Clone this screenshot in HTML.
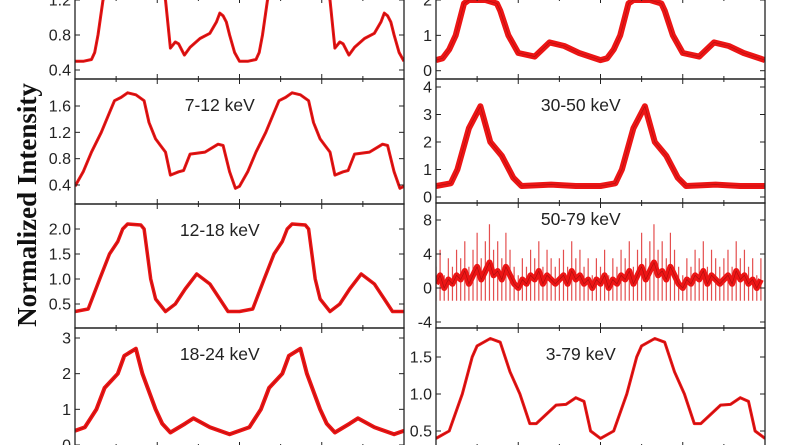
<!DOCTYPE html>
<html><head><meta charset="utf-8"><style>
body{margin:0;background:#fff;width:800px;height:445px;overflow:hidden}
svg{display:block}
text{font-family:"Liberation Sans",Arial,sans-serif;fill:#222}
</style></head><body>
<svg id="fig" width="800" height="445">
<text x="0" y="0" transform="translate(36,205) rotate(-90)" text-anchor="middle" style="font-family:'Liberation Serif',serif;font-weight:bold;font-size:27px;fill:#111">Normalized Intensity</text>
</svg>
<script>
// ---- data (phase within one cycle, normalized intensity) ----
const p1Phase=[0,0.05,0.1,0.12,0.14,0.17,0.22,0.3,0.4,0.5,0.55,0.58,0.61,0.63,0.665,0.7,0.76,0.82,0.86,0.88,0.9,0.92,0.94,0.97,1.0];
const p1Vals =[0.5,0.5,0.52,0.6,0.8,1.2,1.35,1.42,1.42,1.38,1.2,0.65,0.72,0.7,0.57,0.66,0.76,0.82,0.95,1.05,1.02,0.95,0.8,0.6,0.5];
const p2Phase=[0,0.05,0.1,0.16,0.21,0.24,0.28,0.32,0.37,0.42,0.45,0.49,0.52,0.55,0.58,0.63,0.66,0.7,0.79,0.87,0.9,0.94,0.975,1.0];
const p2Vals =[0.38,0.6,0.9,1.2,1.5,1.68,1.73,1.8,1.77,1.68,1.35,1.1,1.0,0.9,0.55,0.6,0.62,0.87,0.9,1.02,1.0,0.6,0.35,0.38];
const p3Phase=[0,0.08,0.15,0.21,0.26,0.29,0.32,0.4,0.42,0.46,0.49,0.55,0.61,0.67,0.74,0.82,0.88,0.93,1.0];
const p3Vals =[0.35,0.4,1.0,1.5,1.75,2.0,2.1,2.08,2.0,1.0,0.6,0.35,0.5,0.8,1.1,0.9,0.6,0.35,0.35];
const p4Phase=[0,0.06,0.13,0.18,0.26,0.3,0.37,0.41,0.49,0.53,0.58,0.67,0.72,0.82,0.94,1.0];
const p4Vals =[0.4,0.5,1.0,1.6,2.0,2.5,2.7,2.0,1.0,0.6,0.35,0.6,0.75,0.5,0.3,0.4];
const p5Phase=[0,0.04,0.08,0.12,0.17,0.2,0.3,0.37,0.39,0.44,0.5,0.6,0.69,0.78,0.87,1.0];
const p5Vals =[0.3,0.35,0.6,1.0,1.9,2.0,2.0,1.9,1.7,1.0,0.5,0.4,0.8,0.7,0.5,0.3];
const p6Phase=[0,0.09,0.13,0.2,0.27,0.33,0.4,0.47,0.52,0.7,0.85,1.0];
const p6Vals =[0.4,0.5,1.0,2.5,3.3,2.0,1.5,0.7,0.4,0.45,0.4,0.4];
const p7Vals =[0.5,1.5,0,1,0.5,1.5,1,2,0.5,1.5,2.5,1,2,3,1.5,2,1,2.5,1.5,0.5,0,1,0.5,1.5,1,2,0.5,1.5,1,0.5,1,1.5,0.5,2,1,1.5,0.5,1,0,1];
const p8Phase=[0,0.08,0.16,0.22,0.25,0.33,0.39,0.45,0.51,0.57,0.61,0.73,0.79,0.85,0.9,0.94,1.0];
const p8Vals =[0.4,0.5,1.0,1.5,1.65,1.75,1.7,1.3,1.0,0.6,0.6,0.85,0.86,0.95,0.9,0.5,0.4];
// ---- tick labels ----
const t1=[0.4,0.8,1.2], t2=[0.4,0.8,1.2,1.6], t3=[0.5,1.0,1.5,2.0], t4=[0,1,2,3];
const t5=[0,1,2], t6=[0,1,2,3,4], t7=[-4,0,4,8], t8=[0.5,1.0,1.5];

const NS="http://www.w3.org/2000/svg", svg=document.getElementById('fig');
function mk(tag,attrs,parent){const e=document.createElementNS(NS,tag);for(const k in attrs)e.setAttribute(k,attrs[k]);(parent||svg).appendChild(e);return e;}
const L=[75,404],R=[436,765];
const panels=[
 {id:'3-7',col:L,top:-2,bot:79,v1:0.4,y1:70,v2:1.2,y2:0,ph:p1Phase,val:p1Vals,ticks:t1,dec:1,label:null,w:3},
 {id:'7-12',col:L,top:79,bot:204,v1:0.4,y1:185,v2:1.6,y2:106,ph:p2Phase,val:p2Vals,ticks:t2,dec:1,label:'7-12 keV',w:3},
 {id:'12-18',col:L,top:204,bot:328,v1:0.5,y1:304,v2:2.0,y2:229,ph:p3Phase,val:p3Vals,ticks:t3,dec:1,label:'12-18 keV',w:3.5},
 {id:'18-24',col:L,top:328,bot:447,v1:0,y1:445,v2:3,y2:338,ph:p4Phase,val:p4Vals,ticks:t4,dec:0,label:'18-24 keV',w:4},
 {id:'24-30',col:R,top:-2,bot:79,v1:0,y1:70.7,v2:2,y2:0,ph:p5Phase,val:p5Vals,ticks:t5,dec:0,label:null,w:6},
 {id:'30-50',col:R,top:79,bot:203,v1:0,y1:197,v2:4,y2:87,ph:p6Phase,val:p6Vals,ticks:t6,dec:0,label:'30-50 keV',w:6},
 {id:'50-79',col:R,top:203,bot:328,v1:0,y1:288,v2:8,y2:220,ph:null,val:p7Vals,ticks:t7,dec:0,label:'50-79 keV',w:6},
 {id:'3-79',col:R,top:328,bot:447,v1:0.5,y1:431,v2:1.5,y2:357,ph:p8Phase,val:p8Vals,ticks:t8,dec:1,label:'3-79 keV',w:3}
];
panels.forEach((p,i)=>{
 const g=mk('g',{});
 
 
 const x0=p.col[0],x1=p.col[1],cw=(x1-x0)/2;
 const ys=v=>p.y1+(v-p.v1)*(p.y2-p.y1)/(p.v2-p.v1);
 const xs=ph=>x0+ph*cw;
 const cid='c'+i;
 const cp=mk('clipPath',{id:cid},g);mk('rect',{x:x0,y:p.top,width:x1-x0,height:p.bot-p.top},cp);
 let pts=[];
 if(p.ph){for(let c=0;c<2;c++)p.ph.forEach((ph,j)=>pts.push(xs(c+ph).toFixed(1)+','+ys(p.val[j]).toFixed(1)));}
 else{const n=p.val.length;for(let c=0;c<2;c++)p.val.forEach((v,j)=>pts.push(xs(c+j/n).toFixed(1)+','+ys(v).toFixed(1)));
   for(let c=0;c<2;c++)p.val.forEach((v,j)=>{const e=1.5+v;const eb=mk('line',{x1:xs(c+j/n),x2:xs(c+j/n),y1:ys(v-e),y2:ys(v+e),stroke:'#dd2222','stroke-opacity':0.8,"stroke-width":1.2,'clip-path':'url(#'+cid+')'},g);
     
     });}
 const line=mk('polyline',{points:pts.join(' '),fill:'none',stroke:'#ec1515','stroke-width':p.w,'stroke-linejoin':'round','clip-path':'url(#'+cid+')'},g);
 
 
 mk('polyline',{points:pts.join(' '),fill:'none',stroke:'#300','stroke-opacity':0.35,'stroke-width':0.6,'clip-path':'url(#'+cid+')'},g);
 mk('rect',{x:x0,y:p.top,width:x1-x0,height:p.bot-p.top,fill:'none',stroke:'#222','stroke-width':1.3},g);
 for(let k=1;k<8;k++){const tx=x0+k*cw/4,len=k%2==0?5:3;mk('line',{x1:tx,x2:tx,y1:p.bot,y2:p.bot-len,stroke:'#222'},g);mk('line',{x1:tx,x2:tx,y1:p.top,y2:p.top+len,stroke:'#222'},g);}
 p.ticks.forEach(t=>{const y=ys(t);
  mk('line',{x1:x0,x2:x0+5,y1:y,y2:y,stroke:'#222'},g);mk('line',{x1:x1,x2:x1-5,y1:y,y2:y,stroke:'#222'},g);
  const tl=mk('text',{x:x0-4,y:y+5.5,'text-anchor':'end','font-size':16},g);tl.textContent=t.toFixed(p.dec);
  
  });
 if(p.label){const lb=mk('text',{x:x0+(x1-x0)*0.44,y:p.top+32,'text-anchor':'middle','font-size':17.5},g);lb.textContent=p.label;
  if(p.id==='50-79')lb.setAttribute('y',p.top+22);
  
  }
});
</script>
</body></html>
